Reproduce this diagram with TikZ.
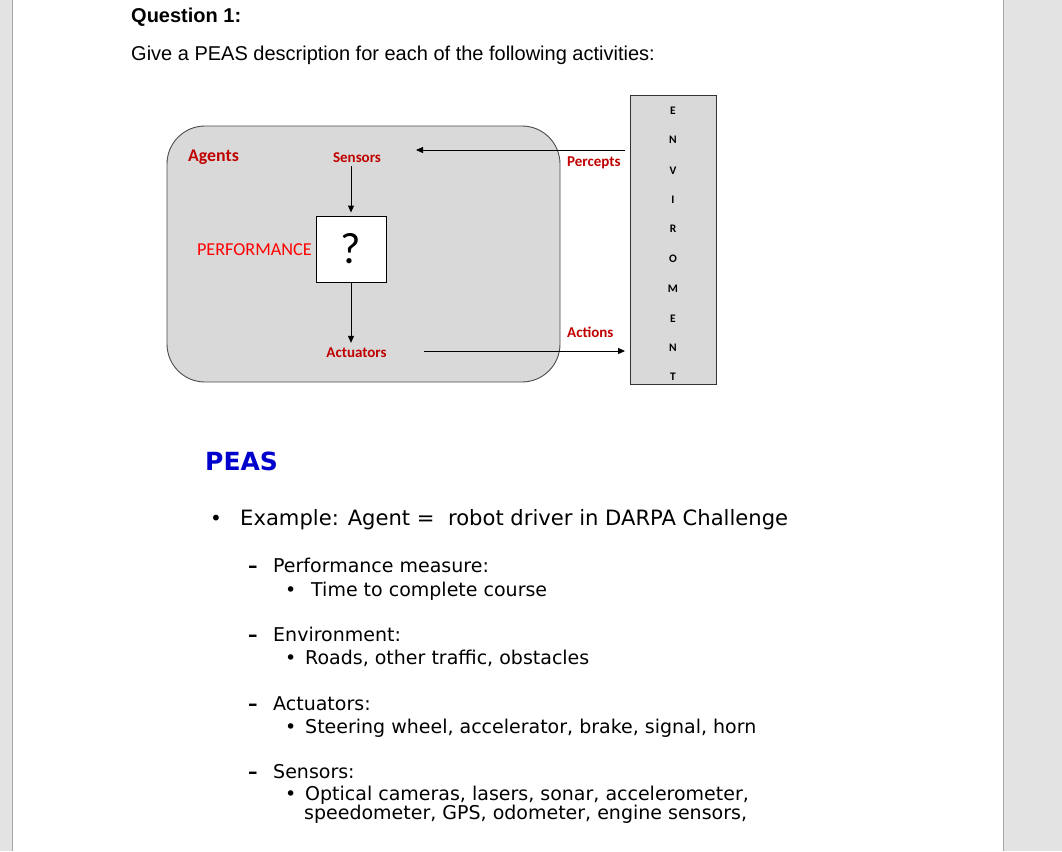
\documentclass[tikz,border=0pt]{standalone}
\usepackage{fontspec}
\setmainfont{Liberation Sans}
\newfontfamily\calfont{Carlito}
\newfontfamily\verd{DejaVu Sans}
\usetikzlibrary{arrows.meta}
\definecolor{pagegray}{HTML}{E3E3E3}
\definecolor{boxgray}{HTML}{D9D9D9}
\definecolor{dred}{HTML}{C00000}
\definecolor{peasblue}{HTML}{0000CC}
\begin{document}
\begin{tikzpicture}[x=1pt,y=-1pt,
  lbl/.style={font=\calfont\bfseries\fontsize{15}{17}\selectfont, text=dred, inner sep=0},
  envl/.style={font=\calfont\bfseries\fontsize{11.5}{13}\selectfont, inner sep=0},
  arr/.style={draw=black, line width=0.9pt, -{Triangle[length=7pt,width=6pt]}},
  txt/.style={anchor=base west, inner sep=0},
  body/.style={txt, font=\verd\fontsize{19}{22}\selectfont},
  dashmark/.style={txt, font=\verd\bfseries\fontsize{19}{22}\selectfont},
  big/.style={txt, font=\verd\fontsize{21.1}{24}\selectfont},
]
\useasboundingbox (0,0) rectangle (1062,851);
\fill[white] (0,0) rectangle (1062,851);
\fill[pagegray] (0,0) rectangle (12,851);
\fill[pagegray] (1004,0) rectangle (1062,851);
\draw[black!35, line width=0.8pt] (12.5,0) -- (12.5,851);
\draw[black!35, line width=0.8pt] (1003.5,0) -- (1003.5,851);

% header
\node[txt, font=\bfseries\fontsize{20}{24}\selectfont] (q1) at (131,23) {Question 1:};
\node[txt, font=\fontsize{20}{24}\selectfont] (give) at (131,60) {Give a PEAS description for each of the following activities:};

% agent box
\node[draw=black!70, fill=boxgray, line width=0.9pt, rounded corners=38pt,
      minimum width=393pt, minimum height=256pt, inner sep=0] (agent) at (363.5,254) {};
\node[lbl, font=\calfont\bfseries\fontsize{17.8}{20}\selectfont, anchor=west] (agents) at (188,157.5) {Agents};
\node[lbl] (sens) at (357,158) {Sensors};
\node[draw=black, fill=white, line width=0.9pt, minimum width=70pt, minimum height=66pt, inner sep=0]
      (qbox) at (351,249) {\calfont\fontsize{44}{46}\selectfont ?};
\node[anchor=east, inner sep=0, text=red, font=\calfont\fontsize{18.2}{20}\selectfont] (perf) at (312,249.5) {PERFORMANCE};
\node[lbl] (act) at (356.5,353) {Actuators};
\node[lbl, anchor=west] (perc) at (567,163) {Percepts};
\node[lbl, anchor=west] (actions) at (567,332) {Actions};

% environment
\node[draw=black!80, fill=boxgray, line width=0.9pt, minimum width=86pt, minimum height=289pt, inner sep=0]
      (env) at (673.5,240) {};
\foreach \l/\y [count=\i] in {E/111,N/140,V/171,I/200,R/229,O/259,M/289,E/319,N/348,T/377}
  \node[envl] (e\i) at (673,\y) {\l};

% connectors
\draw[arr, shorten <=3pt, shorten >=3pt] (qbox.north |- sens.south) -- (qbox.north);
\draw[arr] (qbox.south) -- ([yshift=5pt]qbox.south |- act.north);
\coordinate (pL) at (416,150);
\coordinate (aL) at (424,351);
\draw[arr, shorten <=5.5pt] (env.west |- pL) -- (pL);
\draw[arr, shorten >=5pt] (aL) -- (env.west |- aL);

% PEAS
\node[txt, text=peasblue, font=\verd\bfseries\fontsize{25}{28}\selectfont] (peas) at (205,470) {PEAS};
\node[txt, font=\verd\fontsize{20}{24}\selectfont] (b0) at (210,525) {•};
\node[big] (ex) at (240,525) {Example: Agent =\ \ robot driver in DARPA Challenge};

\node[dashmark] (d1) at (248,572) {–};
\node[body] (t1) at (273,572) {Performance measure:};
\node[body] (b1) at (285,596) {•};
\node[body] (s1) at (311,596) {Time to complete course};

\node[dashmark] (d2) at (248,641) {–};
\node[body] (t2) at (273,641) {Environment:};
\node[body] (b2) at (285,664) {•};
\node[body] (s2) at (305,664) {Roads, other traffic, obstacles};

\node[dashmark] (d3) at (248,710) {–};
\node[body] (t3) at (273,710) {Actuators:};
\node[body] (b3) at (285,733) {•};
\node[body] (s3) at (305,733) {Steering wheel, accelerator, brake, signal, horn};

\node[dashmark] (d4) at (248,778) {–};
\node[body] (t4) at (273,778) {Sensors:};
\node[body] (b4) at (285,800) {•};
\node[body] (s4) at (305,800) {Optical cameras, lasers, sonar, accelerometer,};
\node[body] (s5) at (304,819) {speedometer, GPS, odometer, engine sensors,};
\end{tikzpicture}
\end{document}
